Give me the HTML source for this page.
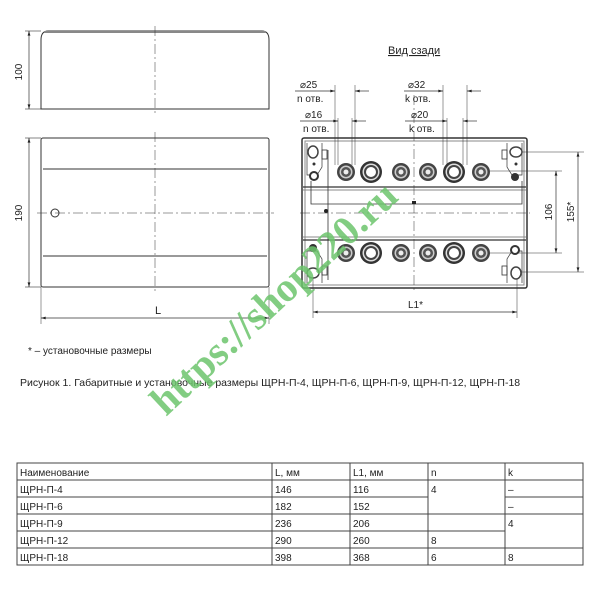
<!DOCTYPE html>
<html><head><meta charset="utf-8"><style>
html,body{margin:0;padding:0;background:#fff;}
svg{display:block}
text{font-family:"Liberation Sans",sans-serif;fill:#222}
</style></head><body>
<svg width="600" height="600" viewBox="0 0 600 600" xmlns="http://www.w3.org/2000/svg">
<defs>
<marker id="a" viewBox="0 0 10 6" refX="10" refY="3" markerWidth="8" markerHeight="4" orient="auto-start-reverse"><path d="M0,0L10,3L0,6z" fill="#222"/></marker>
<g id="hs"><circle r="9" fill="#444"/><circle r="6.5" fill="#ccc"/><circle r="5" fill="#555"/><circle r="2.5" fill="#eee"/></g>
<g id="hl"><circle r="11" fill="#333"/><circle r="8.5" fill="#ddd"/><circle r="7" fill="#444"/><circle r="5" fill="#fff"/></g>
</defs>
<g stroke="#333" fill="none" stroke-width="1">
<path d="M41,109 L41,40 Q41,31 48,31 L262,31 Q269,31 269,40 L269,109 Z"/>
<line x1="44" y1="32" x2="266" y2="32" stroke="#888" stroke-width="2"/>
<line x1="25" y1="31" x2="41" y2="31" stroke-width=".6"/>
<line x1="25" y1="109" x2="41" y2="109" stroke-width=".6"/>
<line x1="29" y1="31" x2="29" y2="109" stroke-width=".7" marker-start="url(#a)" marker-end="url(#a)"/>
<line x1="155" y1="26" x2="155" y2="114" stroke-width=".5" stroke-dasharray="10,3,2,3"/>
<rect x="41" y="138" width="228" height="149" rx="2"/>
<line x1="43" y1="169" x2="267" y2="169"/>
<line x1="43" y1="256" x2="267" y2="256"/>
<circle cx="55" cy="213" r="4"/>
<line x1="25" y1="138" x2="41" y2="138" stroke-width=".6"/>
<line x1="25" y1="287" x2="41" y2="287" stroke-width=".6"/>
<line x1="29" y1="138" x2="29" y2="287" stroke-width=".7" marker-start="url(#a)" marker-end="url(#a)"/>
<line x1="37" y1="213" x2="274" y2="213" stroke-width=".5" stroke-dasharray="10,3,2,3"/>
<line x1="155" y1="132" x2="155" y2="292" stroke-width=".5" stroke-dasharray="10,3,2,3"/>
<line x1="41" y1="287" x2="41" y2="324" stroke-width=".5"/>
<line x1="269" y1="287" x2="269" y2="324" stroke-width=".5"/>
<line x1="41" y1="318" x2="269" y2="318" stroke-width=".7" marker-start="url(#a)" marker-end="url(#a)"/>
<rect x="302" y="138" width="225" height="150" rx="2" stroke-width="1.5"/>
<rect x="305" y="141" width="219" height="144" stroke="#888"/>
<line x1="303" y1="187" x2="526" y2="187" stroke-width="1.2"/>
<line x1="303" y1="240" x2="526" y2="240" stroke-width="1.2"/>
<line x1="303" y1="190" x2="526" y2="190" stroke="#888"/>
<line x1="303" y1="237" x2="526" y2="237" stroke="#888"/>
<path d="M311,181 v23 h211 v-23" stroke-width=".8"/>
<line x1="328" y1="150" x2="328" y2="280" stroke-width=".8"/>
<line x1="300" y1="213" x2="530" y2="213" stroke-width=".5" stroke-dasharray="10,3,2,3"/>
<line x1="414" y1="95" x2="414" y2="290" stroke-width=".5" stroke-dasharray="10,3,2,3"/>
<path d="M307,143 v32 h10 l5,-8 v-24" stroke-width=".7"/>
<path d="M522,143 v32 h-10 l-5,-8 v-24" stroke-width=".7"/>
<path d="M307,283 v-32 h10 l5,8 v24" stroke-width=".7"/>
<path d="M522,283 v-32 h-10 l-5,8 v24" stroke-width=".7"/>
<rect x="322" y="150" width="5" height="9" stroke-width=".8"/>
<rect x="502" y="150" width="5" height="9" stroke-width=".8"/>
<rect x="322" y="266" width="5" height="9" stroke-width=".8"/>
<rect x="502" y="266" width="5" height="9" stroke-width=".8"/>
<g stroke-width=".5">
<line x1="335" y1="85" x2="335" y2="165"/><line x1="355" y1="85" x2="355" y2="165"/>
<line x1="338" y1="118" x2="338" y2="165"/><line x1="352" y1="118" x2="352" y2="165"/>
<line x1="443" y1="85" x2="443" y2="165"/><line x1="467" y1="85" x2="467" y2="165"/>
<line x1="447" y1="118" x2="447" y2="165"/><line x1="463" y1="118" x2="463" y2="165"/>
<line x1="482" y1="171" x2="562" y2="171"/><line x1="482" y1="253" x2="562" y2="253"/>
<line x1="515" y1="152" x2="584" y2="152"/><line x1="515" y1="272" x2="584" y2="272"/>
<line x1="313" y1="275" x2="313" y2="318"/><line x1="517" y1="275" x2="517" y2="318"/>
</g>
<g stroke-width=".7">
<line x1="295" y1="91" x2="335" y2="91" marker-end="url(#a)"/><line x1="369" y1="91" x2="355" y2="91" marker-end="url(#a)"/>
<line x1="300" y1="121" x2="338" y2="121" marker-end="url(#a)"/><line x1="366" y1="121" x2="352" y2="121" marker-end="url(#a)"/>
<line x1="404" y1="91" x2="443" y2="91" marker-end="url(#a)"/><line x1="481" y1="91" x2="467" y2="91" marker-end="url(#a)"/>
<line x1="405" y1="121" x2="447" y2="121" marker-end="url(#a)"/><line x1="477" y1="121" x2="463" y2="121" marker-end="url(#a)"/>
<line x1="556" y1="171" x2="556" y2="253" marker-start="url(#a)" marker-end="url(#a)"/>
<line x1="578" y1="152" x2="578" y2="272" marker-start="url(#a)" marker-end="url(#a)"/>
<line x1="313" y1="312" x2="517" y2="312" marker-start="url(#a)" marker-end="url(#a)"/>
</g>
</g>
<ellipse cx="313" cy="152" rx="5" ry="6" fill="#fff" stroke="#444" stroke-width="1.5"/>
<ellipse cx="516" cy="152" rx="6" ry="5" fill="#fff" stroke="#444" stroke-width="1.5"/>
<ellipse cx="313" cy="273" rx="6" ry="5" fill="#fff" stroke="#444" stroke-width="1.5"/>
<ellipse cx="516" cy="273" rx="5" ry="6" fill="#fff" stroke="#444" stroke-width="1.5"/>
<circle cx="314" cy="176" r="4" fill="#fff" stroke="#333" stroke-width="2"/>
<circle cx="515" cy="177" r="4" fill="#333"/>
<circle cx="313" cy="248" r="4" fill="#333"/>
<circle cx="515" cy="250" r="4" fill="#fff" stroke="#333" stroke-width="2"/>
<circle cx="314" cy="164" r="1.5" fill="#333"/><circle cx="516" cy="164" r="1.5" fill="#333"/>
<circle cx="326" cy="211" r="2" fill="#222"/><rect x="412" y="201" width="4" height="3" fill="#222"/>
<use href="#hs" x="346" y="172"/><use href="#hl" x="371" y="172"/><use href="#hs" x="401" y="172"/><use href="#hs" x="428" y="172"/><use href="#hl" x="454" y="172"/><use href="#hs" x="481" y="172"/>
<use href="#hs" x="346" y="253"/><use href="#hl" x="371" y="253"/><use href="#hs" x="401" y="253"/><use href="#hs" x="428" y="253"/><use href="#hl" x="454" y="253"/><use href="#hs" x="481" y="253"/>
<text x="22" y="72" font-size="10" transform="rotate(-90 22 72)" text-anchor="middle">100</text>
<text x="22" y="213" font-size="10" transform="rotate(-90 22 213)" text-anchor="middle">190</text>
<text x="155" y="314" font-size="11">L</text>
<text x="28" y="354" font-size="10">* – установочные размеры</text>
<text x="388" y="54" font-size="11" text-decoration="underline">Вид сзади</text>
<text x="300" y="88" font-size="10">⌀25</text>
<text x="297" y="102" font-size="10">n отв.</text>
<text x="305" y="118" font-size="10">⌀16</text>
<text x="303" y="132" font-size="10">n отв.</text>
<text x="408" y="88" font-size="10">⌀32</text>
<text x="405" y="102" font-size="10">k отв.</text>
<text x="411" y="118" font-size="10">⌀20</text>
<text x="409" y="132" font-size="10">k отв.</text>
<text x="552" y="212" font-size="10" transform="rotate(-90 552 212)" text-anchor="middle">106</text>
<text x="574" y="212" font-size="10" transform="rotate(-90 574 212)" text-anchor="middle">155*</text>
<text x="408" y="308" font-size="10">L1*</text>
<text x="20" y="386" font-size="10.5">Рисунок 1. Габаритные и установочные размеры ЩРН-П-4, ЩРН-П-6, ЩРН-П-9, ЩРН-П-12, ЩРН-П-18</text>
<g stroke="#444" stroke-width="1" fill="none">
<rect x="17" y="463" width="566" height="102"/>
<line x1="17" y1="480" x2="583" y2="480"/>
<line x1="17" y1="497" x2="428" y2="497"/><line x1="505" y1="497" x2="583" y2="497"/>
<line x1="17" y1="514" x2="583" y2="514"/>
<line x1="17" y1="531" x2="505" y2="531"/>
<line x1="17" y1="548" x2="583" y2="548"/>
<line x1="272" y1="463" x2="272" y2="565"/><line x1="350" y1="463" x2="350" y2="565"/>
<line x1="428" y1="463" x2="428" y2="565"/><line x1="505" y1="463" x2="505" y2="565"/>
</g>
<g font-size="10">
<text x="20" y="476">Наименование</text><text x="275" y="476">L, мм</text><text x="353" y="476">L1, мм</text><text x="431" y="476">n</text><text x="508" y="476">k</text>
<text x="20" y="493">ЩРН-П-4</text><text x="275" y="493">146</text><text x="353" y="493">116</text><text x="431" y="493">4</text><text x="508" y="493">–</text>
<text x="20" y="510">ЩРН-П-6</text><text x="275" y="510">182</text><text x="353" y="510">152</text><text x="508" y="510">–</text>
<text x="20" y="527">ЩРН-П-9</text><text x="275" y="527">236</text><text x="353" y="527">206</text><text x="508" y="527">4</text>
<text x="20" y="544">ЩРН-П-12</text><text x="275" y="544">290</text><text x="353" y="544">260</text><text x="431" y="544">8</text>
<text x="20" y="561">ЩРН-П-18</text><text x="275" y="561">398</text><text x="353" y="561">368</text><text x="431" y="561">6</text><text x="508" y="561">8</text>
</g>
<text x="166" y="417" transform="rotate(-43 166 417)" style="font-family:'Liberation Serif',serif;font-weight:bold;font-size:41px;fill:#6cc46c;fill-opacity:.85">https://shop220.ru</text>
</svg>
</body></html>
